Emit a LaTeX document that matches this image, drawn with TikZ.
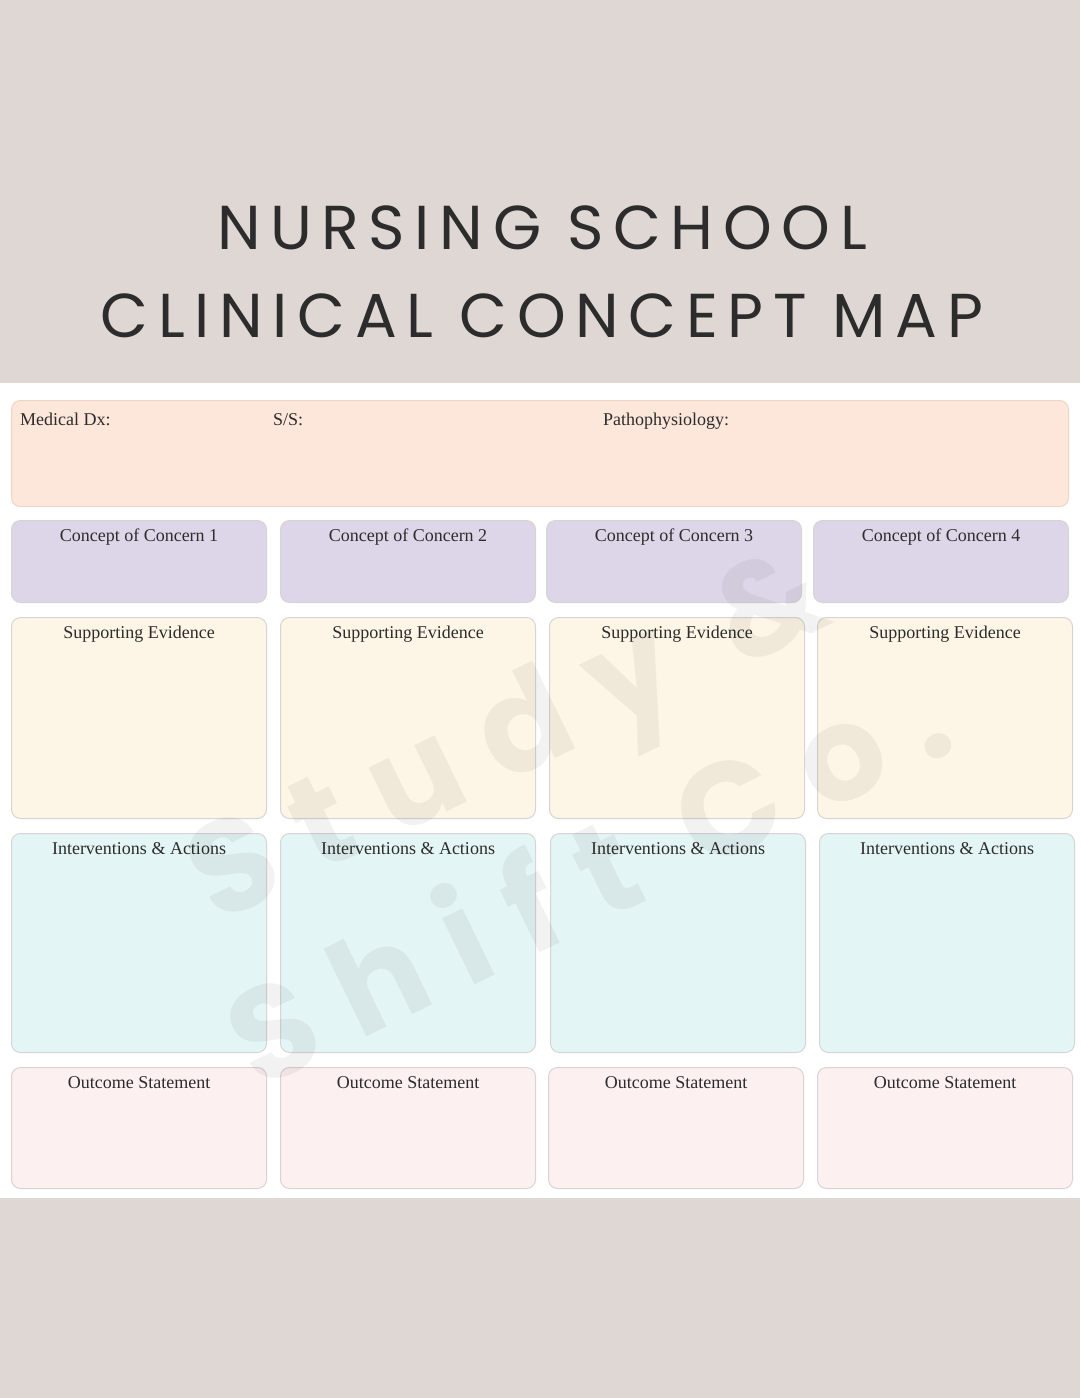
\documentclass[tikz,border=0pt]{standalone}
\usepackage{fontspec}
\setmainfont{Liberation Serif}
\newfontfamily\titlefont[LetterSpace=15.5]{Poppins}
\newfontfamily\markfont[LetterSpace=24]{Poppins}
\usetikzlibrary{positioning,calc}

\definecolor{bandgray}{HTML}{DFD7D4}
\definecolor{inkgray}{HTML}{2C2C2C}
\definecolor{dxpeach}{HTML}{FDE6DA}
\definecolor{dxline}{HTML}{EDD5C8}
\definecolor{coclav}{HTML}{DDD6E8}
\definecolor{evcream}{HTML}{FDF5E5}
\definecolor{intaqua}{HTML}{E4F5F6}
\definecolor{outpink}{HTML}{FCF0F1}
\definecolor{boxline}{HTML}{D8D4D3}

\tikzset{
  cell/.style = {draw=boxline, line width=1pt, rounded corners=9pt,
    anchor=north west, inner sep=0pt, minimum width=255pt},
  head/.style = {font=\fontsize{18}{21}\selectfont, text=inkgray,
    inner sep=0pt, anchor=base},
  wmark/.style = {font=\markfont\bfseries\fontsize{132}{134}\selectfont,
    text=black, text opacity=0.05, rotate=26},
}

\begin{document}
\begin{tikzpicture}[x=1pt, y=-1pt]
  % page and bands
  \fill[bandgray] (0,0) rectangle (1080,1398);
  \fill[white] (0,383) rectangle (1080,1198);
  \useasboundingbox (0,0) rectangle (1080,1398);

  % title
  \node[font=\titlefont\fontsize{62}{70}\selectfont, text=inkgray, anchor=base]
    (title1) at (542,249) {NURSING SCHOOL};
  \node[font=\titlefont\fontsize{62}{70}\selectfont, text=inkgray, anchor=base]
    (title2) at (542,337) {CLINICAL CONCEPT MAP};

  % diagnosis box
  \node[cell, draw=dxline, fill=dxpeach, minimum width=1057pt, minimum height=106pt]
    (dx) at (11,400) {};
  \node[head, anchor=base west] (meddx) at (20,425) {Medical Dx:};
  \node[head, anchor=base west] (ss) at (273,425) {S/S:};
  \node[head, anchor=base west] (patho) at (603,425) {Pathophysiology:};

  % four columns, one row at a time
  \foreach \row/\clr/\ytop/\ht/\xc/\xd/\nums/\txt in {
      coc/coclav/520/82/546/813/1/Concept of Concern,
      ev/evcream/617/201/549/817/0/Supporting Evidence,
      int/intaqua/833/219/550/819/0/Interventions \& Actions,
      out/outpink/1067/121/548/817/0/Outcome Statement} {
    \foreach \col/\xx in {1/11, 2/280, 3/\xc, 4/\xd} {
      \node[cell, fill=\clr, minimum height=\ht pt] (\row\col) at (\xx,\ytop) {};
      \node[head] (\row\col t) at ($(\row\col.north)+(0,21)$)
        {\txt\ifnum\nums=1\ \col\fi};
    }
  }

  % watermark
  \node[wmark] (mark1) at (512,745) {Study \&};
  \node[wmark] (mark2) at (586,872) {Shift Co.};
\end{tikzpicture}
\end{document}
